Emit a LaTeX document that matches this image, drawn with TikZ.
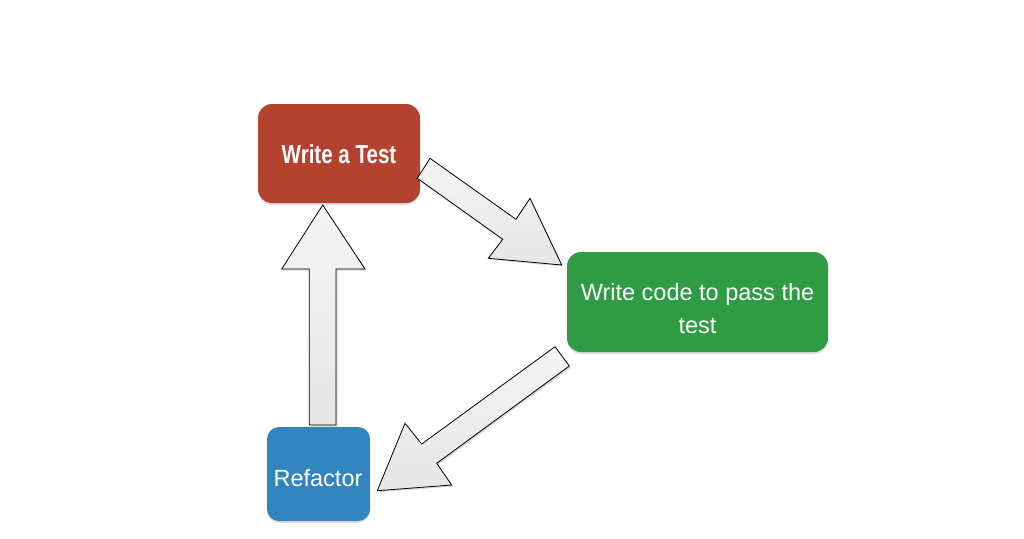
\documentclass[tikz,border=0pt]{standalone}
\usepackage{fontspec}
\setmainfont{Liberation Sans}
\usetikzlibrary{shadows}
\definecolor{redbox}{HTML}{B3422F}
\definecolor{greenbox}{HTML}{2F9C45}
\definecolor{bluebox}{HTML}{3284BE}
\tikzset{
  box/.style={draw=none, rounded corners=14pt, inner sep=0pt,
    drop shadow={opacity=0.25, shadow xshift=0pt, shadow yshift=-2pt}},
  boxtext/.style={inner sep=0pt, text=white, align=center},
  blockarrow/.style={draw=black, line width=0.8pt, line join=miter, top color=white!92!gray, bottom color=white!80!gray,
    drop shadow={opacity=0.3, shadow xshift=1.5pt, shadow yshift=-1.5pt}},
}
\begin{document}
\begin{tikzpicture}[x=1pt,y=-1pt]
\useasboundingbox (0,0) rectangle (1024,538);
\fill[white] (0,0) rectangle (1024,538);
% boxes
\node[box, fill=redbox, minimum width=162pt, minimum height=99pt] (test) at (339,153.5) {};
\node[boxtext, font=\fontsize{26}{28}\selectfont\bfseries] (testtext) at (339,154.5)
  {\scalebox{0.79}[1]{Write a Test}};
\node[box, fill=greenbox, minimum width=261pt, minimum height=100pt] (code) at (697.5,302) {};
\node[boxtext, font=\fontsize{23.5}{33}\selectfont] (codetext) at (697.5,309)
  {Write code to pass the\\test};
\node[box, fill=bluebox, minimum width=103pt, minimum height=94pt, rounded corners=12pt] (refactor) at (318.5,474) {};
\node[boxtext, font=\fontsize{23.5}{26}\selectfont] (refactortext) at (318,478) {Refactor};
% arrows
\draw[blockarrow] (417.3,178.3) -- (430,158.3) -- (516,219.3) -- (530,198.3) -- (561.7,265)
  -- (488.3,258.3) -- (502.7,239.3) -- cycle;
\draw[blockarrow] (555,346.7) -- (569.3,366) -- (436.7,463.3) -- (451.7,485) -- (377.3,490.7)
  -- (405,423.3) -- (421.7,444) -- cycle;
\draw[blockarrow] (309.3,425) -- (309.3,269) -- (281.7,269) -- (322.7,205) -- (365,269)
  -- (336,269) -- (336,425) -- cycle;
\end{tikzpicture}
\end{document}
